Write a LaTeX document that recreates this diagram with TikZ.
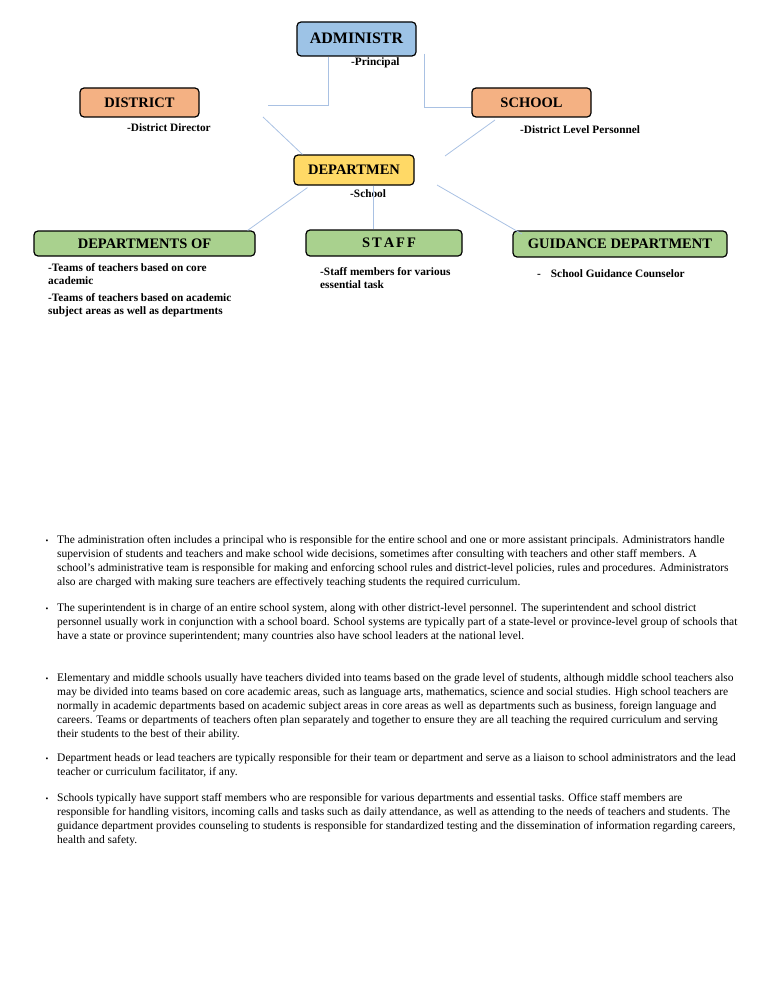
\documentclass[tikz,border=0pt]{standalone}
\usepackage{fontspec}
\setmainfont{Liberation Serif}
\usetikzlibrary{positioning}

\definecolor{adminblue}{HTML}{9DC3E6}
\definecolor{distorange}{HTML}{F4B183}
\definecolor{deptyellow}{HTML}{FFD966}
\definecolor{unitgreen}{HTML}{A9D18E}
\definecolor{linkblue}{HTML}{A9C1E3}

\begin{document}
\begin{tikzpicture}[x=1pt, y=-1pt,
  box/.style={draw=black, line width=1.2pt, rounded corners=4pt, inner sep=0pt,
    font=\fontsize{14.5}{16}\selectfont\bfseries},
  role/.style={font=\fontsize{11.3}{13}\selectfont\bfseries, inner sep=0pt, align=left, anchor=west},
  link/.style={draw=linkblue, line width=0.8pt},
  para/.style={font=\fontsize{11.5}{14}\selectfont, inner sep=0pt, align=left, anchor=north west},
  dot/.style={font=\fontsize{8}{8}\selectfont, inner sep=0pt}]

  \useasboundingbox (0,0) rectangle (768,1006);

  % chart boxes
  \node[box, fill=adminblue, minimum width=119pt, minimum height=34pt, font=\fontsize{16}{18}\selectfont\bfseries] (admin) at (356.5,39) {\raisebox{2pt}{ADMINISTR}};
  \node[box, fill=distorange, minimum width=119pt, minimum height=29pt] (district) at (139.5,102.5) {DISTRICT};
  \node[box, fill=distorange, minimum width=119pt, minimum height=29pt] (school) at (531.5,102.5) {SCHOOL};
  \node[box, fill=deptyellow, minimum width=120pt, minimum height=30pt] (dept) at (354,170) {DEPARTMEN};
  \node[box, fill=unitgreen, minimum width=221pt, minimum height=25pt] (deptsof) at (144.5,243.5) {DEPARTMENTS OF};
  \node[box, fill=unitgreen, minimum width=156pt, minimum height=26pt] (staff) at (384,243) {\hspace{10pt}S\kern2pt T\kern2pt A\kern2pt F\kern2pt F};
  \node[box, fill=unitgreen, minimum width=214pt, minimum height=26pt] (guidance) at (620,244) {GUIDANCE DEPARTMENT};

  % roles
  \node[role] (principal) at (351,63) {-Principal};
  \node[role] (director) at (127,128) {-District Director};
  \node[role] (personnel) at (520,130) {-District Level Personnel};
  \node[role] (schoolrole) at (350,194) {-School};
  \node[role] (teamsA) at (48,274) {-Teams of teachers based on core\\academic};
  \node[role] (teamsB) at (48,305.5) {-Teams of teachers based on academic\\subject areas as well as departments};
  \node[role] (staffrole) at (320,278) {-Staff members for various\\essential task};
  \node[role] (counselor) at (537,274) {-\hspace{10pt}School Guidance Counselor};

  % connectors
  \coordinate (adminL) at (328,105);
  \coordinate (districtR) at (268,105);
  \coordinate (adminR) at (424,107);
  \coordinate (diagL) at (263,117);
  \coordinate (diagR) at (495,120);
  \coordinate (deptNE) at (445,156);
  \coordinate (deptSE) at (437,185);
  \coordinate (guideNW) at (522,234);
  \draw[link] (adminL |- admin.south) -- (adminL) -- (districtR);
  \draw[link] ([yshift=3pt]adminR |- admin.south) -- (adminR) -- (adminR -| school.west);
  \draw[link] (diagL) -- ([xshift=9pt]dept.north west);
  \draw[link] (diagR) -- (deptNE);
  \draw[link] ([xshift=14pt,yshift=-2pt]dept.south west) -- ([xshift=-8pt]deptsof.north east);
  \draw[link] ([xshift=19pt]dept.south) -- ([xshift=19pt]dept.south |- staff.north);
  \draw[link] (deptSE) -- (guideNW);

  % bullet notes
  \node[dot] (b1) at (47,542) {•};
  \node[para] (p1) at (57,535.5) {The administration often includes a principal who is responsible for the entire school and one or more assistant principals. Administrators handle\\
supervision of students and teachers and make school wide decisions, sometimes after consulting with teachers and other staff members. A\\
school’s administrative team is responsible for making and enforcing school rules and district-level policies, rules and procedures. Administrators\\
also are charged with making sure teachers are effectively teaching students the required curriculum.};

  \node[dot] (b2) at (47,610) {•};
  \node[para] (p2) at (57,603.5) {The superintendent is in charge of an entire school system, along with other district-level personnel. The superintendent and school district\\
personnel usually work in conjunction with a school board. School systems are typically part of a state-level or province-level group of schools that\\
have a state or province superintendent; many countries also have school leaders at the national level.};

  \node[dot] (b3) at (47,680) {•};
  \node[para] (p3) at (57,673.5) {Elementary and middle schools usually have teachers divided into teams based on the grade level of students, although middle school teachers also\\
may be divided into teams based on core academic areas, such as language arts, mathematics, science and social studies. High school teachers are\\
normally in academic departments based on academic subject areas in core areas as well as departments such as business, foreign language and\\
careers. Teams or departments of teachers often plan separately and together to ensure they are all teaching the required curriculum and serving\\
their students to the best of their ability.};

  \node[dot] (b4) at (47,760) {•};
  \node[para] (p4) at (57,753.5) {Department heads or lead teachers are typically responsible for their team or department and serve as a liaison to school administrators and the lead\\
teacher or curriculum facilitator, if any.};

  \node[dot] (b5) at (47,800) {•};
  \node[para] (p5) at (57,793.5) {Schools typically have support staff members who are responsible for various departments and essential tasks. Office staff members are\\
responsible for handling visitors, incoming calls and tasks such as daily attendance, as well as attending to the needs of teachers and students. The\\
guidance department provides counseling to students is responsible for standardized testing and the dissemination of information regarding careers,\\
health and safety.};

\end{tikzpicture}
\end{document}
